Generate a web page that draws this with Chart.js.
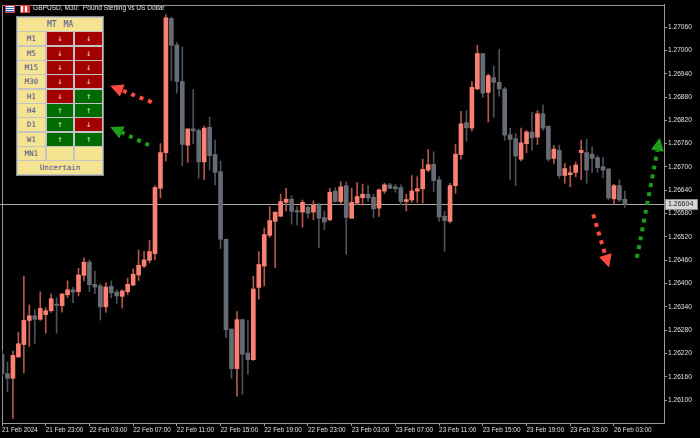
<!DOCTYPE html>
<html lang="en">
  <head>
    <meta charset="utf-8" />
    <title>GBPUSD, M30</title>
    <style>
      html, body { margin: 0; padding: 0; background: #000; }
      .wrap { position: relative; width: 700px; height: 438px; overflow: hidden; }
      canvas { display: block; }
      .title {
        position: absolute; left: 33px; top: 4px;
        font: 6.6px "Liberation Sans", Arial, sans-serif; color: #e6e6e6; white-space: pre;
      }
      .ico1 {
        position: absolute; left: 5px; top: 5px; width: 8px; height: 6px;
        border: 1px solid #e04040;
        background: repeating-linear-gradient(#ffffff 0 1px, #3a6fd8 1px 2px);
      }
      .ico2 {
        position: absolute; left: 20px; top: 5px; width: 8px; height: 6px;
        border: 1px solid #e04040;
        background: linear-gradient(90deg, #ffffff 0 2px, #e04040 2px 4px, #ffffff 4px 6px, #e04040 6px 8px);
      }
      .panel {
        position: absolute; left: 16px; top: 16px;
        padding: 1px; border: 1px solid #8a8a8a; background: #c4c4c4;
        display: grid; grid-template-columns: 26.7px 26.7px 26.7px;
        grid-auto-rows: 13px; column-gap: 2px; row-gap: 1.35px;
        font: 7.5px "DejaVu Sans Mono", monospace;
      }
      .panel div { text-align: center; line-height: 13px; }
      .lab { background: #f4e390; color: #4b4b94; }
      .wide { grid-column: 1 / span 3; }
      .head { font-size: 8px; word-spacing: 2px; }
      .dn { background: #a30000; color: #f6c6c6; font-size: 9px; }
      .up { background: #006b00; color: #c6f3c6; font-size: 9px; }
    </style>
  </head>
  <body>
    <div class="wrap">
      <canvas id="myChart" width="700" height="438"></canvas>
      <span class="ico1"></span><span class="ico2"></span>
      <div class="title">GBPUSD, M30:  Pound Sterling vs US Dollar</div>
      <div class="panel" id="panel"></div>
    </div>
    <script src="https://cdn.jsdelivr.net/npm/chart.js/dist/chart.umd.min.js"></script>
    <script>
      // x axis labels, one every 8 bars (4 hours of M30)
      const tickLabels = ["21 Feb 2024", "21 Feb 23:00", "22 Feb 03:00", "22 Feb 07:00", "22 Feb 11:00",
        "22 Feb 15:00", "22 Feb 19:00", "22 Feb 23:00", "23 Feb 03:00", "23 Feb 07:00", "23 Feb 11:00",
        "23 Feb 15:00", "23 Feb 19:00", "23 Feb 23:00", "26 Feb 03:00"];
      const priceTicks = [1.261, 1.2616, 1.2622, 1.2628, 1.2634, 1.264, 1.2646, 1.2652, 1.2658,
        1.2664, 1.267, 1.2676, 1.2682, 1.2688, 1.2694, 1.27, 1.2706];

      const opens = [1.26218, 1.26168, 1.26156, 1.26211, 1.26243, 1.26305, 1.26317, 1.26308, 1.26320, 1.26330,
        1.26347, 1.26343, 1.26371, 1.26384, 1.26379, 1.26421, 1.26455, 1.26398, 1.26394, 1.26340,
        1.26393, 1.26378, 1.26367, 1.26379, 1.26396, 1.26422, 1.26445, 1.26460, 1.26477, 1.26645,
        1.26737, 1.27082, 1.27014, 1.26920, 1.26756, 1.26798, 1.26794, 1.26713, 1.26802, 1.26732,
        1.26688, 1.26514, 1.26283, 1.26181, 1.26307, 1.26221, 1.26204, 1.26390, 1.26445, 1.26524,
        1.26560, 1.26573, 1.26609, 1.26617, 1.26588, 1.26584, 1.26596, 1.26584, 1.26601, 1.26570,
        1.26564, 1.26638, 1.26611, 1.26652, 1.26568, 1.26607, 1.26621, 1.26630, 1.26622, 1.26594,
        1.26638, 1.26654, 1.26649, 1.26647, 1.26611, 1.26615, 1.26638, 1.26644, 1.26692, 1.26707,
        1.26667, 1.26573, 1.26560, 1.26652, 1.26732, 1.26814, 1.26800, 1.26901, 1.26992, 1.26892,
        1.26930, 1.26918, 1.26901, 1.26783, 1.26773, 1.26720, 1.26760, 1.26790, 1.26777, 1.26837,
        1.26805, 1.26722, 1.26743, 1.26678, 1.26680, 1.26686, 1.26737, 1.26737, 1.26733, 1.26724,
        1.26701, 1.26695, 1.26618, 1.26652, 1.26617];
      const highs = [1.26228, 1.26198, 1.26226, 1.26275, 1.26419, 1.26345, 1.26333, 1.26379, 1.26338, 1.26373,
        1.26364, 1.26375, 1.26407, 1.26390, 1.26439, 1.26466, 1.26461, 1.26432, 1.26399, 1.26402,
        1.26407, 1.26384, 1.26384, 1.26414, 1.26437, 1.26486, 1.26483, 1.26511, 1.26652, 1.26760,
        1.27092, 1.27086, 1.27020, 1.27009, 1.26798, 1.26899, 1.26798, 1.26805, 1.26828, 1.26769,
        1.26715, 1.26514, 1.26283, 1.26328, 1.26307, 1.26306, 1.26419, 1.26482, 1.26543, 1.26598,
        1.26584, 1.26630, 1.26645, 1.26626, 1.26598, 1.26615, 1.26603, 1.26613, 1.26607, 1.26587,
        1.26645, 1.26647, 1.26662, 1.26662, 1.26645, 1.26660, 1.26656, 1.26652, 1.26630, 1.26644,
        1.26658, 1.26658, 1.26655, 1.26654, 1.26630, 1.26678, 1.26675, 1.26720, 1.26745, 1.26739,
        1.26675, 1.26586, 1.26658, 1.26758, 1.26843, 1.26845, 1.26920, 1.27013, 1.26992, 1.26939,
        1.26960, 1.27003, 1.26905, 1.26800, 1.26786, 1.26800, 1.26794, 1.26841, 1.26845, 1.26860,
        1.26805, 1.26756, 1.26756, 1.26709, 1.26703, 1.26713, 1.26769, 1.26771, 1.26752, 1.26729,
        1.26724, 1.26695, 1.26655, 1.26667, 1.26638];
      const lows = [1.26161, 1.26121, 1.26053, 1.26210, 1.26170, 1.26238, 1.26246, 1.26305, 1.26272, 1.26326,
        1.26272, 1.26326, 1.26364, 1.26351, 1.26368, 1.26407, 1.26379, 1.26374, 1.26306, 1.26326,
        1.26363, 1.26349, 1.26337, 1.26371, 1.26394, 1.26408, 1.26441, 1.26453, 1.26461, 1.26620,
        1.26715, 1.26922, 1.26890, 1.26703, 1.26712, 1.26760, 1.26671, 1.26667, 1.26692, 1.26654,
        1.26490, 1.26260, 1.26156, 1.26110, 1.26115, 1.26167, 1.26202, 1.26360, 1.26394, 1.26519,
        1.26441, 1.26573, 1.26587, 1.26553, 1.26550, 1.26545, 1.26568, 1.26564, 1.26492, 1.26539,
        1.26562, 1.26609, 1.26603, 1.26475, 1.26568, 1.26603, 1.26601, 1.26611, 1.26570, 1.26573,
        1.26632, 1.26644, 1.26635, 1.26603, 1.26587, 1.26609, 1.26609, 1.26607, 1.26688, 1.26637,
        1.26560, 1.26483, 1.26556, 1.26632, 1.26720, 1.26766, 1.26792, 1.26899, 1.26879, 1.26816,
        1.26828, 1.26882, 1.26769, 1.26667, 1.26652, 1.26715, 1.26737, 1.26743, 1.26758, 1.26794,
        1.26715, 1.26709, 1.26671, 1.26658, 1.26649, 1.26675, 1.26667, 1.26658, 1.26686, 1.26686,
        1.26672, 1.26615, 1.26604, 1.26611, 1.26596];
      const closes = [1.26168, 1.26156, 1.26215, 1.26245, 1.26305, 1.26317, 1.26308, 1.26336, 1.26330, 1.26361,
        1.26344, 1.26373, 1.26384, 1.26378, 1.26422, 1.26455, 1.26397, 1.26391, 1.26340, 1.26391,
        1.26376, 1.26368, 1.26381, 1.26398, 1.26424, 1.26447, 1.26461, 1.26482, 1.26647, 1.26737,
        1.27084, 1.27013, 1.26920, 1.26758, 1.26798, 1.26793, 1.26713, 1.26800, 1.26729, 1.26686,
        1.26514, 1.26281, 1.26181, 1.26307, 1.26218, 1.26204, 1.26386, 1.26449, 1.26526, 1.26562,
        1.26584, 1.26611, 1.26617, 1.26586, 1.26584, 1.26609, 1.26581, 1.26601, 1.26568, 1.26558,
        1.26635, 1.26611, 1.26649, 1.26570, 1.26609, 1.26624, 1.26630, 1.26620, 1.26592, 1.26641,
        1.26654, 1.26645, 1.26644, 1.26611, 1.26616, 1.26638, 1.26644, 1.26694, 1.26706, 1.26665,
        1.26571, 1.26562, 1.26652, 1.26733, 1.26811, 1.26801, 1.26905, 1.26992, 1.26890, 1.26935,
        1.26918, 1.26901, 1.26782, 1.26771, 1.26728, 1.26762, 1.26790, 1.26775, 1.26837, 1.26800,
        1.26720, 1.26746, 1.26678, 1.26696, 1.26685, 1.26705, 1.26743, 1.26692, 1.26722, 1.26698,
        1.26692, 1.26620, 1.26652, 1.26615, 1.26604];

      // MT MA panel: signal per timeframe (d = down, u = up, "" = none)
      const timeframes = ["M1", "M5", "M15", "M30", "H1", "H4", "D1", "W1", "MN1"];
      const signalA = ["d", "d", "d", "d", "d", "u", "u", "u", ""];
      const signalB = ["d", "d", "d", "d", "u", "u", "d", "u", ""];

      // hand drawn arrows, in [bar index, price]
      const arrows = [
        { from: [27.4, 1.26867], to: [19.8, 1.26909], color: "#ff4b3e" },
        { from: [26.9, 1.26756], to: [19.8, 1.26803], color: "#1c9e1c" },
        { from: [108.2, 1.26578], to: [111.1, 1.26441], color: "#ff4b3e" },
        { from: [116.2, 1.26466], to: [120.4, 1.26775], color: "#1c9e1c" },
      ];

      const bull = "#f98072";
      const bear = "#656c73";
      const axisColor = "#9a9a9a";

      // panel
      const panel = document.getElementById("panel");
      function cell(cls, text) {
        const d = document.createElement("div");
        d.className = cls;
        d.textContent = text;
        panel.appendChild(d);
      }
      cell("lab wide head", "MT MA");
      timeframes.forEach((tf, i) => {
        cell("lab", tf);
        [signalA[i], signalB[i]].forEach((s) => {
          if (s === "d") cell("dn", "\u2193");
          else if (s === "u") cell("up", "\u2191");
          else cell("lab", "");
        });
      });
      cell("lab wide", "Uncertain");

      const isBull = closes.map((c, i) => c >= opens[i]);

      const framePlugin = {
        id: "frame",
        beforeDatasetsDraw(chart) {
          const { ctx, chartArea: a, scales } = chart;
          ctx.save();
          ctx.strokeStyle = axisColor;
          ctx.lineWidth = 1;
          ctx.beginPath();
          ctx.moveTo(a.left + 0.5, a.bottom);
          ctx.lineTo(a.left + 0.5, a.top + 0.5);
          ctx.lineTo(a.right, a.top + 0.5);
          ctx.stroke();
          // current price line
          const py = Math.round(scales.y.getPixelForValue(closes[closes.length - 1])) + 0.5;
          ctx.strokeStyle = "#a9a9a9";
          ctx.beginPath();
          ctx.moveTo(0, py);
          ctx.lineTo(a.right, py);
          ctx.stroke();
          ctx.restore();
        },
        afterDatasetsDraw(chart) {
          const { ctx, scales } = chart;
          ctx.save();
          arrows.forEach((ar) => {
            const x0 = scales.x.getPixelForValue(ar.from[0]);
            const y0 = scales.y.getPixelForValue(ar.from[1]);
            const x1 = scales.x.getPixelForValue(ar.to[0]);
            const y1 = scales.y.getPixelForValue(ar.to[1]);
            const ang = Math.atan2(y1 - y0, x1 - x0);
            const head = 13;
            const bx = x1 - head * Math.cos(ang);
            const by = y1 - head * Math.sin(ang);
            ctx.strokeStyle = ar.color;
            ctx.fillStyle = ar.color;
            ctx.lineWidth = 4;
            ctx.setLineDash([4, 5]);
            ctx.beginPath();
            ctx.moveTo(x0, y0);
            ctx.lineTo(bx, by);
            ctx.stroke();
            ctx.setLineDash([]);
            const w = 6.5;
            ctx.beginPath();
            ctx.moveTo(x1, y1);
            ctx.lineTo(bx + w * Math.sin(ang), by - w * Math.cos(ang));
            ctx.lineTo(bx - w * Math.sin(ang), by + w * Math.cos(ang));
            ctx.closePath();
            ctx.fill();
          });
          ctx.restore();
        },
        afterDraw(chart) {
          const { ctx, chartArea: a, scales } = chart;
          const last = closes[closes.length - 1];
          const py = Math.round(scales.y.getPixelForValue(last));
          ctx.save();
          ctx.fillStyle = "#d6d6d6";
          ctx.fillRect(a.right + 1, py - 5, 33, 11);
          ctx.strokeStyle = "#8c8c8c";
          ctx.strokeRect(a.right + 1.5, py - 4.5, 32, 10);
          ctx.fillStyle = "#1a1a1a";
          ctx.font = '7px "Liberation Sans", Arial, sans-serif';
          ctx.textBaseline = "middle";
          ctx.fillText(last.toFixed(5), a.right + 4, py + 0.5);
          ctx.restore();
        },
      };

      const data = {
        datasets: [
          {
            label: "body",
            data: opens.map((o, i) => ({ x: i, y: [o, closes[i]] })),
            backgroundColor: isBull.map((b) => (b ? bull : bear)),
            barThickness: 4,
            minBarLength: 1,
            grouped: false,
          },
          {
            label: "wick",
            data: lows.map((l, i) => ({ x: i, y: [l, highs[i]] })),
            backgroundColor: isBull.map((b) => (b ? "#b4564a" : "#4c5258")),
            barThickness: 1,
            grouped: false,
          },
        ],
      };

      const config = {
        type: "bar",
        data,
        plugins: [framePlugin],
        options: {
          responsive: false,
          animation: false,
          devicePixelRatio: 1,
          layout: { padding: { left: 2, top: 2, right: 0, bottom: 0 } },
          plugins: { legend: { display: false }, tooltip: { enabled: false } },
          scales: {
            x: {
              type: "linear",
              offset: false,
              min: 0,
              max: 121.16,
              afterBuildTicks: (axis) => {
                axis.ticks = tickLabels.map((_, k) => ({ value: k * 8 }));
              },
              afterFit: (scale) => { scale.height = 15; },
              ticks: {
                callback: (v) => tickLabels[Math.round(v / 8)],
                align: "start",
                autoSkip: false,
                maxRotation: 0,
                padding: 0,
                color: "#e0e0e0",
                font: { family: "Liberation Sans", size: 6.4 },
              },
              grid: { drawOnChartArea: false, drawTicks: true, tickLength: 3, color: axisColor, offset: false },
              border: { display: true, color: axisColor },
            },
            y: {
              position: "right",
              min: 1.26041,
              max: 1.27117,
              afterBuildTicks: (axis) => {
                axis.ticks = priceTicks.map((v) => ({ value: v }));
              },
              afterFit: (scale) => { scale.width = 36; },
              ticks: {
                callback: (v) => v.toFixed(5),
                padding: 1,
                color: "#e0e0e0",
                font: { family: "Liberation Sans", size: 6.6 },
              },
              grid: { drawOnChartArea: false, drawTicks: true, tickLength: 3, color: axisColor },
              border: { display: true, color: axisColor },
            },
          },
        },
      };

      const myChart = new Chart(document.getElementById("myChart"), config);
    </script>
  </body>
</html>
